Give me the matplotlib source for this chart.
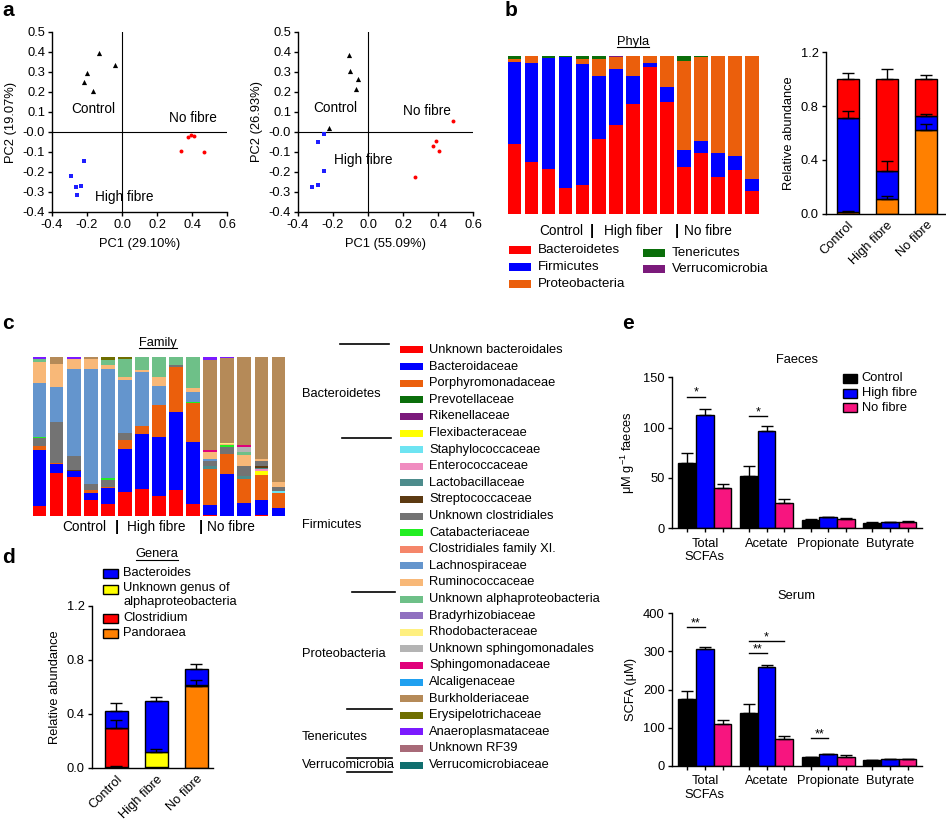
import matplotlib
matplotlib.use('Agg')
import matplotlib.pyplot as plt
from matplotlib.patches import Rectangle
import numpy as np

FS = 9.3
plt.rcParams['font.family'] = ['Liberation Sans', 'DejaVu Sans']
plt.rcParams['font.size'] = FS
plt.rcParams['mathtext.default'] = 'regular'
plt.rcParams['axes.linewidth'] = 1.0
plt.rcParams['xtick.major.size'] = 3
plt.rcParams['ytick.major.size'] = 3

W, H = 946, 822

# ---------------- data ----------------
# a: PCoA, left (29.10% / 19.07%)
a1_ctrl_x = [-0.13, -0.04, -0.20, -0.22, -0.165]
a1_ctrl_y = [0.395, 0.335, 0.295, 0.25, 0.205]
a1_high_x = [-0.215, -0.29, -0.265, -0.235, -0.255]
a1_high_y = [-0.145, -0.22, -0.275, -0.27, -0.315]
a1_no_x = [0.375, 0.395, 0.41, 0.335, 0.47]
a1_no_y = [-0.025, -0.015, -0.02, -0.095, -0.10]
# a: PCoA, right (55.09% / 26.93%)
a2_ctrl_x = [-0.109, -0.105, -0.058, -0.07, -0.223]
a2_ctrl_y = [0.387, 0.303, 0.263, 0.215, 0.022]
a2_high_x = [-0.253, -0.286, -0.253, -0.286, -0.318]
a2_high_y = [-0.008, -0.048, -0.195, -0.263, -0.273]
a2_no_x = [0.486, 0.39, 0.371, 0.405, 0.267]
a2_no_y = [0.057, -0.047, -0.068, -0.097, -0.223]

# b: phyla per sample (5 control, 5 high fibre, 5 no fibre)
phyla_names = ['Bacteroidetes', 'Firmicutes', 'Proteobacteria', 'Tenericutes', 'Verrucomicrobia']
phyla_colors = ['#ff0000', '#0000ff', '#eb5f0c', '#0a6e0a', '#7b1a7b']
bacteroidetes = [0.443, 0.327, 0.287, 0.162, 0.184, 0.477, 0.563, 0.696, 0.928, 0.709, 0.297, 0.386, 0.232, 0.281, 0.146]
firmicutes = [0.521, 0.629, 0.700, 0.830, 0.767, 0.394, 0.353, 0.180, 0.028, 0.095, 0.110, 0.076, 0.154, 0.084, 0.076]
proteobacteria = [0.019, 0.044, 0.0, 0.0, 0.028, 0.112, 0.080, 0.124, 0.044, 0.196, 0.563, 0.530, 0.614, 0.635, 0.778]
tenericutes = [0.017, 0.0, 0.013, 0.008, 0.021, 0.017, 0.0, 0.0, 0.0, 0.0, 0.030, 0.008, 0.0, 0.0, 0.0]
verrucomicrobia = [0.0, 0.0, 0.0, 0.0, 0.0, 0.0, 0.004, 0.0, 0.0, 0.0, 0.0, 0.0, 0.0, 0.0, 0.0]

# b right: mean relative abundance per diet
diets = ['Control', 'High fibre', 'No fibre']
rel_prot = [0.015, 0.109, 0.622]
rel_firm = [0.694, 0.206, 0.102]
rel_bact = [0.291, 0.685, 0.276]
rel_prot_err = [0.008, 0.025, 0.047]
rel_firm_err = [0.055, 0.074, 0.015]
rel_bact_err = [0.044, 0.074, 0.034]

# c: families
family_names = ['Unknown bacteroidales', 'Bacteroidaceae', 'Porphyromonadaceae', 'Prevotellaceae',
                'Rikenellaceae', 'Flexibacteraceae', 'Staphylococcaceae', 'Enterococcaceae',
                'Lactobacillaceae', 'Streptococcaceae', 'Unknown clostridiales', 'Catabacteriaceae',
                'Clostridiales family XI.', 'Lachnospiraceae', 'Ruminococcaceae',
                'Unknown alphaproteobacteria', 'Bradyrhizobiaceae', 'Rhodobacteraceae',
                'Unknown sphingomonadales', 'Sphingomonadaceae', 'Alcaligenaceae', 'Burkholderiaceae',
                'Erysipelotrichaceae', 'Anaeroplasmataceae', 'Unknown RF39', 'Verrucomicrobiaceae']
family_colors = ['#ff0000', '#0000ff', '#eb5f0c', '#0a6e0a', '#7b1a7b', '#ffff00', '#6ee4f2',
                 '#f08cc0', '#4d8c8c', '#5c3a12', '#737373', '#22ee22', '#f5866a', '#6495cd',
                 '#f8b878', '#6ec088', '#9070c0', '#fff080', '#b4b4b4', '#e0007a', '#20a0f0',
                 '#b58a58', '#6e6e00', '#7b1aff', '#a86a78', '#106e6e']
z15 = [0.0] * 15
family_abund = [
    [.063, .268, .243, .10, .075, .149, .167, .126, .163, .075, .005, 0, 0, .004, 0],
    [.351, .056, .039, .046, .101, .274, .348, .368, .492, .391, .064, .264, .08, .096, .048],
    [.027, .007, 0, .017, .008, .056, .052, .203, .278, .245, .228, .125, .15, .157, .098],
    z15,
    z15,
    [0, 0, 0, 0, 0, 0, 0, 0, 0, 0, 0, 0, 0, .028, 0],
    [0, 0, 0, 0, 0, 0, 0, 0, 0, 0, 0, 0, 0, 0, .013],
    [0, 0, 0, 0, 0, 0, 0, 0, 0, 0, 0, 0, 0, .008, 0],
    [0, 0, 0, 0, 0, 0, 0, 0, 0, 0, .017, 0, .02, .007, 0],
    [0, 0, .008, 0, 0, 0, 0, 0, 0, 0, 0, 0, 0, .014, 0],
    [.047, .261, .089, .036, .042, .044, 0, 0, .015, 0, .033, .042, .064, .033, .021],
    [.010, 0, 0, 0, .012, 0, 0, 0, 0, .006, 0, .013, 0, 0, 0],
    z15,
    [.335, .216, .542, .724, .685, .331, .339, .119, 0, .059, .010, 0, 0, 0, 0],
    [.132, .146, .063, .062, .025, .017, .011, .058, 0, .027, .047, .008, .071, .009, .035],
    [.022, 0, 0, 0, .031, .113, .083, .126, .052, .197, 0, 0, .019, 0, 0],
    z15,
    [0, 0, 0, 0, 0, 0, 0, 0, 0, 0, 0, .008, 0, 0, 0],
    [0, 0, 0, 0, 0, 0, 0, 0, 0, 0, 0, 0, .027, 0, 0],
    [0, 0, 0, 0, 0, 0, 0, 0, 0, 0, .01, 0, .013, 0, 0],
    z15,
    [0, .046, 0, .015, 0, 0, 0, 0, 0, 0, .565, .534, .556, .644, .785],
    [0, 0, 0, 0, .021, .016, 0, 0, 0, 0, 0, 0, 0, 0, 0],
    [.013, 0, .016, 0, 0, 0, 0, 0, 0, 0, .021, .006, 0, 0, 0],
    z15,
    z15,
]
phylum_groups = ['Bacteroidetes', 'Firmicutes', 'Proteobacteria', 'Tenericutes', 'Verrucomicrobia']

# d: genera (stacked bottom -> top: Pandoraea, Clostridium, Unknown, Bacteroides)
genera_names = ['Bacteroides', 'Unknown genus of\nalphaproteobacteria', 'Clostridium', 'Pandoraea']
genera_colors = ['#0000ff', '#ffff00', '#ff0000', '#ff8000']
gen_pandoraea = [0.005, 0.003, 0.609]
gen_clostridium = [0.290, 0.0, 0.008]
gen_unknown = [0.0, 0.112, 0.0]
gen_bacteroides = [0.128, 0.380, 0.115]
gen_pandoraea_err = [0.008, 0.0, 0.042]
gen_clostridium_err = [0.057, 0.0, 0.0]
gen_unknown_err = [0.0, 0.027, 0.0]
gen_bacteroides_err = [0.057, 0.032, 0.040]

# e: SCFAs
scfa_labels = ['Total\nSCFAs', 'Acetate', 'Propionate', 'Butyrate']
diet_colors = ['#000000', '#0000ff', '#f7157f']
faeces_ctrl = [64.6, 51.7, 8.3, 5.6]
faeces_high = [112.9, 96.4, 11.3, 6.3]
faeces_no = [40.1, 25.5, 8.9, 6.3]
faeces_ctrl_err = [10.6, 10.2, 1.0, 0.4]
faeces_high_err = [5.6, 4.9, 0.3, 0.3]
faeces_no_err = [4.3, 3.3, 1.4, 0.7]
serum_ctrl = [174.2, 139.2, 21.9, 14.9]
serum_high = [306.3, 260.0, 29.8, 17.5]
serum_no = [109.4, 70.0, 23.6, 16.6]
serum_ctrl_err = [22.8, 22.7, 1.7, 0.9]
serum_high_err = [4.4, 5.2, 1.7, 1.0]
serum_no_err = [11.4, 7.9, 3.5, 0.9]

# ---------------- figure ----------------
fig = plt.figure(figsize=(W / 100, H / 100), dpi=100)


def px_axes(x0, y0, x1, y1):
    return fig.add_axes([x0 / W, 1 - y1 / H, (x1 - x0) / W, (y1 - y0) / H])


def clean(ax):
    ax.spines['top'].set_visible(False)
    ax.spines['right'].set_visible(False)
    ax.tick_params(direction='out', width=1, labelsize=FS, pad=2)


# a
pca_sets = [
    ((52, 32, 227, 212), a1_ctrl_x, a1_ctrl_y, a1_high_x, a1_high_y, a1_no_x, a1_no_y,
     'PC1 (29.10%)', 'PC2 (19.07%)',
     [(-0.164, 0.115, 'Control'), (0.014, -0.325, 'High fibre'), (0.405, 0.07, 'No fibre')]),
    ((298, 32, 473, 212), a2_ctrl_x, a2_ctrl_y, a2_high_x, a2_high_y, a2_no_x, a2_no_y,
     'PC1 (55.09%)', 'PC2 (26.93%)',
     [(-0.19, 0.122, 'Control'), (-0.026, -0.138, 'High fibre'), (0.334, 0.105, 'No fibre')]),
]
for rect, cx, cy, hx, hy, nx, ny, xl, yl, labs in pca_sets:
    ax = px_axes(*rect)
    ax.axhline(0, color='k', lw=0.8, zorder=1)
    ax.axvline(0, color='k', lw=0.8, zorder=1)
    ax.scatter(cx, cy, marker='^', s=14, c='k', linewidths=0, zorder=3)
    ax.scatter(hx, hy, marker='s', s=9, c='#1f1fff', linewidths=0, zorder=3)
    ax.scatter(nx, ny, marker='o', s=8, c='#ff0000', linewidths=0, zorder=3)
    ax.set_xlim(-0.4, 0.6)
    ax.set_ylim(-0.4, 0.5)
    ax.set_xticks(np.arange(-0.4, 0.61, 0.2))
    ax.set_yticks(np.arange(-0.4, 0.51, 0.1))
    ax.xaxis.set_major_formatter(matplotlib.ticker.FormatStrFormatter('%.1f'))
    ax.yaxis.set_major_formatter(matplotlib.ticker.FormatStrFormatter('%.1f'))
    clean(ax)
    ax.set_xlabel(xl, fontsize=FS, labelpad=5)
    ax.set_ylabel(yl, fontsize=FS, labelpad=4)
    for tx, ty, t in labs:
        ax.text(tx, ty, t, ha='center', va='center', fontsize=9.8)

# b phyla
ax = px_axes(506, 56, 760.4, 214)
xs = np.arange(15)
bottom = np.zeros(15)
for vals, col in zip([bacteroidetes, firmicutes, proteobacteria, tenericutes, verrucomicrobia], phyla_colors):
    ax.bar(xs, vals, bottom=bottom, width=0.8, color=col, linewidth=0)
    bottom += np.array(vals)
ax.set_xlim(-0.5, 14.5)
ax.set_ylim(0, 1)
ax.axis('off')

# b right
ax = px_axes(825.7, 52.3, 946, 213.7)
xs = np.arange(3)
bw = 0.555
b0 = np.zeros(3)
for vals, err, col in [(rel_prot, rel_prot_err, '#ff8000'), (rel_firm, rel_firm_err, '#0000ff'),
                       (rel_bact, rel_bact_err, '#ff0000')]:
    ax.bar(xs, vals, bottom=b0, width=bw, color=col, edgecolor='k', linewidth=1, zorder=2)
    top = b0 + np.array(vals)
    ax.errorbar(xs, top, yerr=[np.zeros(3), err], fmt='none', ecolor='k', elinewidth=1,
                capsize=4, capthick=1, zorder=3)
    b0 = top
ax.set_xlim(-0.565, 2.51)
ax.set_ylim(0, 1.2)
ax.set_yticks([0, 0.4, 0.8, 1.2])
ax.yaxis.set_major_formatter(matplotlib.ticker.FormatStrFormatter('%.1f'))
ax.set_xticks(xs)
ax.set_xticklabels(diets, rotation=45, ha='right', rotation_mode='anchor')
clean(ax)
ax.tick_params(axis='x', length=0, pad=4)
ax.set_ylabel('Relative abundance', fontsize=FS, labelpad=4)

# c family
ax = px_axes(31.3, 356.7, 286.7, 516)
xs = np.arange(15)
bottom = np.zeros(15)
for vals, col in zip(family_abund, family_colors):
    ax.bar(xs, vals, bottom=bottom, width=0.78, color=col, linewidth=0)
    bottom += np.array(vals)
ax.set_xlim(-0.5, 14.5)
ax.set_ylim(0, 1)
ax.axis('off')

# d genera
ax = px_axes(91.7, 606, 213, 767.7)
xs = np.arange(3)
bw = 0.567
b0 = np.zeros(3)
for vals, err, col in [(gen_pandoraea, gen_pandoraea_err, genera_colors[3]),
                       (gen_clostridium, gen_clostridium_err, genera_colors[2]),
                       (gen_unknown, gen_unknown_err, genera_colors[1]),
                       (gen_bacteroides, gen_bacteroides_err, genera_colors[0])]:
    v = np.array(vals)
    ax.bar(xs, v, bottom=b0, width=bw, color=col, edgecolor='k', linewidth=1, zorder=2)
    top = b0 + v
    m = np.array(err) > 0
    ax.errorbar(xs[m], top[m], yerr=[np.zeros(m.sum()), np.array(err)[m]], fmt='none',
                ecolor='k', elinewidth=1, capsize=4, capthick=1, zorder=3)
    b0 = top
ax.set_xlim(-0.615, 2.42)
ax.set_ylim(0, 1.2)
ax.set_yticks([0, 0.4, 0.8, 1.2])
ax.yaxis.set_major_formatter(matplotlib.ticker.FormatStrFormatter('%.1f'))
ax.set_xticks(xs)
ax.set_xticklabels(diets, rotation=45, ha='right', rotation_mode='anchor')
clean(ax)
ax.tick_params(axis='x', length=0, pad=4)
ax.set_ylabel('Relative abundance', fontsize=FS, labelpad=4)


# e SCFA panels
def scfa_panel(rect, ctrl, high, no, ctrl_e, high_e, no_e, ymax, yticks, ylabel, title, sig):
    ax = px_axes(*rect)
    g = np.arange(4)
    bw = 0.287
    centers = []
    for k, (vals, err, col) in enumerate([(ctrl, ctrl_e, diet_colors[0]), (high, high_e, diet_colors[1]),
                                          (no, no_e, diet_colors[2])]):
        x = g + (k - 1) * bw
        centers.append(x)
        ax.bar(x, vals, width=bw, color=col, edgecolor='k', linewidth=1, zorder=2)
        ax.errorbar(x, vals, yerr=[np.zeros(4), err], fmt='none', ecolor='k', elinewidth=1,
                    capsize=4, capthick=1, zorder=3)
    allc = np.sort(np.concatenate(centers))
    ax.set_xticks(allc)
    ax.set_xticklabels([])
    ax.set_xlim(-0.537, 3.515)
    ax.set_ylim(0, ymax)
    ax.set_yticks(yticks)
    clean(ax)
    ax.tick_params(axis='x', length=3, pad=2)
    for gi, lab in enumerate(scfa_labels):
        ax.annotate(lab, (gi, 0), xytext=(0, -7), textcoords='offset points', ha='center',
                    va='top', fontsize=FS, linespacing=1.15, annotation_clip=False)
    ax.set_ylabel(ylabel, fontsize=FS, labelpad=4)
    ax.set_title(title, fontsize=FS, pad=10)
    for gi, a, b, yv, star in sig:
        x1 = gi + (a - 1) * bw
        x2 = gi + (b - 1) * bw
        ax.plot([x1, x2], [yv, yv], color='k', lw=1, clip_on=False)
        ax.annotate(star, ((x1 + x2) / 2, yv), xytext=(0, 0.5), textcoords='offset points',
                    ha='center', va='baseline', fontsize=9, annotation_clip=False)
    return ax


scfa_panel((671.7, 377.3, 921.7, 528.3), faeces_ctrl, faeces_high, faeces_no,
           faeces_ctrl_err, faeces_high_err, faeces_no_err, 150, [0, 50, 100, 150],
           'μM g$^{-1}$ faeces', 'Faeces',
           [(0, 0, 1, 130.8, '*'), (1, 0, 1, 111.9, '*')])
scfa_panel((671.7, 613.3, 921.7, 765.7), serum_ctrl, serum_high, serum_no,
           serum_ctrl_err, serum_high_err, serum_no_err, 400, [0, 100, 200, 300, 400],
           'SCFA (μM)', 'Serum',
           [(0, 0, 1, 365, '**'), (1, 0, 2, 328, '*'), (1, 0, 1, 295, '**'), (2, 0, 1, 72, '**')])

# ---------------- overlay: labels, legends ----------------
ov = fig.add_axes([0, 0, 1, 1])
ov.set_xlim(0, W)
ov.set_ylim(H, 0)
ov.axis('off')

for x, y, t in [(2, 10, 'a'), (505, 10, 'b'), (2, 323, 'c'), (2, 557, 'd'), (622, 323, 'e')]:
    ov.text(x, y, t, fontsize=15, fontweight='bold', ha='left', va='center')

underlined = []
for x, y, t in [(633, 42, 'Phyla'), (158, 343, 'Family'), (157, 554, 'Genera')]:
    underlined.append(ov.text(x, y, t, ha='center', va='center', fontsize=FS))

for y, items in [(231, [(561, 'Control'), (592, '|'), (633, 'High fiber'), (677, '|'), (708, 'No fibre')]),
                 (527, [(84, 'Control'), (117, '|'), (156, 'High fibre'), (201, '|'), (231, 'No fibre')])]:
    for x, t in items:
        ov.text(x, y, t, ha='center', va='center', fontsize=9.8 if t != '|' else 10.5,
                fontweight='bold' if t == '|' else 'normal')

# phyla legend
phyla_pos = [(509, 250), (509, 267), (509, 284), (643, 253), (643, 269)]
for (x, y), name, col in zip(phyla_pos, phyla_names, phyla_colors):
    ov.add_patch(Rectangle((x, y - 4), 22, 8, color=col, lw=0))
    ov.text(x + 29, y, name, ha='left', va='center', fontsize=9.6)

# family legend
for i, (name, col) in enumerate(zip(family_names, family_colors)):
    y = 350 + i * 16.6
    ov.add_patch(Rectangle((400, y - 3.5), 22.7, 7, color=col, lw=0))
    ov.text(429, y, name, ha='left', va='center', fontsize=FS)

for y, t in zip([394, 525, 654, 737, 765], phylum_groups):
    ov.text(302, y, t, ha='left', va='center', fontsize=FS)
for x0, x1, y in [(340, 389, 344), (342, 391, 438), (352, 395, 592), (347, 392, 709),
                  (347, 392, 757.5), (347, 392, 771.5)]:
    ov.plot([x0, x1], [y, y], color='k', lw=1.2)

# genera legend
gen_rows = [573.3, 589.3, 618.3, 633.3]
for y, name, col in zip(gen_rows, genera_names, genera_colors):
    ov.add_patch(Rectangle((103, y - 4.5), 15, 9, facecolor=col, edgecolor='k', lw=1))
    ov.text(123, y - 7.5 if '\n' in name else y, name, ha='left', va='top' if '\n' in name else 'center',
            fontsize=FS, linespacing=1.25)

# scfa legend
for i, (name, col) in enumerate(zip(diets, diet_colors)):
    y = 378.3 + i * 14.7
    ov.add_patch(Rectangle((842.7, y - 4.5), 14, 9, facecolor=col, edgecolor='k', lw=1))
    ov.text(861.7, y, name, ha='left', va='center', fontsize=FS)

# underline headings
fig.canvas.draw()
inv = ov.transData.inverted()
for t in underlined:
    bb = t.get_window_extent()
    (x0, y0), (x1, y1) = inv.transform([(bb.x0, bb.y0), (bb.x1, bb.y1)])
    ov.plot([x0, x1], [y0 - 0.5, y0 - 0.5], color='k', lw=0.8)

fig.savefig('out.png', dpi=100)
